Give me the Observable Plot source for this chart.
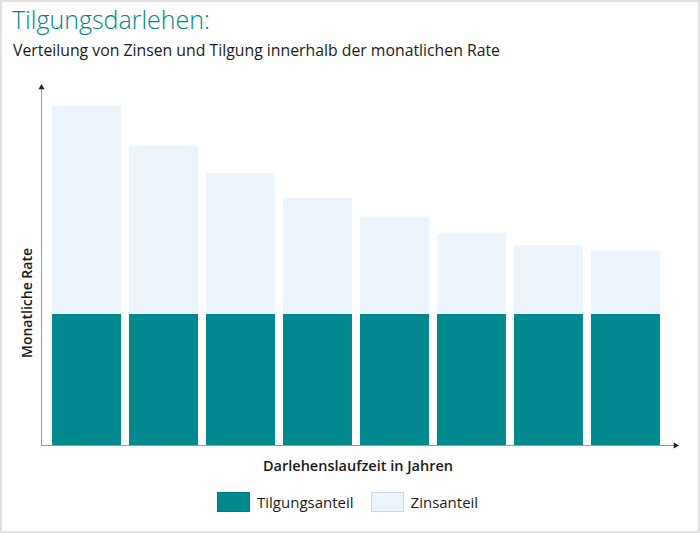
<!DOCTYPE html>
<html><head><meta charset="utf-8">
<script src="https://cdn.jsdelivr.net/npm/d3@7"></script>
<script src="https://cdn.jsdelivr.net/npm/@observablehq/plot@0.6"></script>
<style>
body{margin:0;background:#fff;}
#wrap{position:relative;width:700px;height:533px;font-family:"Open Sans",sans-serif;overflow:hidden;background:#fff}
#border{position:absolute;left:0;top:0;width:700px;height:533px;box-sizing:border-box;border:2px solid #e2e2e2;pointer-events:none}
#title{position:absolute;left:12px;top:4px;font-size:25px;line-height:30px;font-weight:300;color:#00858a;white-space:nowrap}
#subtitle{position:absolute;left:13px;top:40px;font-size:15.8px;line-height:20px;color:#1a1a1a;white-space:nowrap}
#chart{position:absolute;left:0;top:70px}
#legend{position:absolute;left:217px;top:492px;display:flex;align-items:center;font-size:15px;color:#1a1a1a;line-height:20px}
.sw{width:33px;height:20px;box-sizing:border-box;margin-right:7px}
.item{display:flex;align-items:center;margin-right:17px}
</style>
</head><body>
<div id="wrap">
  <div id="title">Tilgungsdarlehen:</div>
  <div id="subtitle">Verteilung von Zinsen und Tilgung innerhalb der monatlichen Rate</div>
  <div id="chart"></div>
  <div id="legend"></div>
  <div id="border"></div>
</div>
<script>
const jahre = ["1", "2", "3", "4", "5", "6", "7", "8"];
const tilgungsanteil = [131, 131, 131, 131, 131, 131, 131, 131];
const zinsanteil = [208, 168, 141, 116, 97, 81, 69, 63];
const serien = ["Tilgungsanteil", "Zinsanteil"];
const farben = ["#008a8f", "#edf5fc"];
const randFarben = ["#007a7f", "#cfd8e0"];

const rows = [
  ...jahre.map((j, i) => ({jahr: j, teil: serien[0], wert: tilgungsanteil[i]})),
  ...jahre.map((j, i) => ({jahr: j, teil: serien[1], wert: zinsanteil[i]}))
];

const plot = Plot.plot({
  width: 700,
  height: 410,
  marginLeft: 41,
  marginRight: 26,
  marginTop: 18,
  marginBottom: 35,
  style: {fontFamily: "'Open Sans', sans-serif", background: "transparent"},
  x: {domain: jahre, paddingInner: 0.104, paddingOuter: 0.163, align: 0.44, round: false, axis: null},
  y: {domain: [0, 357], axis: null},
  color: {domain: serien, range: farben},
  marks: [
    Plot.barY(rows, {x: "jahr", y: "wert", fill: "teil", order: serien}),
    Plot.frame({anchor: "left", stroke: "#9a9a9a", strokeWidth: 1}),
    Plot.frame({anchor: "bottom", stroke: "#9a9a9a", strokeWidth: 1}),
    Plot.dot([0], {frameAnchor: "top-left", symbol: "triangle", r: 2.3, fill: "#222", stroke: "none", dy: -1}),
    Plot.dot([0], {frameAnchor: "bottom-right", symbol: "triangle", r: 2.3, fill: "#222", stroke: "none", rotate: 90, dx: 1}),
    Plot.text(["Darlehenslaufzeit in Jahren"], {frameAnchor: "bottom", lineAnchor: "middle", textAnchor: "middle", dy: 21, fontSize: 14.5, fontWeight: 600, fill: "#1a1a1a"}),
    Plot.text(["Monatliche Rate"], {frameAnchor: "left", lineAnchor: "middle", textAnchor: "middle", rotate: -90, dx: -14, dy: 36, fontSize: 14, fontWeight: 600, fill: "#1a1a1a"})
  ]
});
document.getElementById("chart").appendChild(plot);

const legend = document.getElementById("legend");
serien.forEach((s, i) => {
  const item = document.createElement("div");
  item.className = "item";
  const sw = document.createElement("div");
  sw.className = "sw";
  sw.style.background = farben[i];
  sw.style.border = "1px solid " + randFarben[i];
  const t = document.createElement("span");
  t.textContent = s;
  item.appendChild(sw);
  item.appendChild(t);
  legend.appendChild(item);
});
</script>
</body></html>
